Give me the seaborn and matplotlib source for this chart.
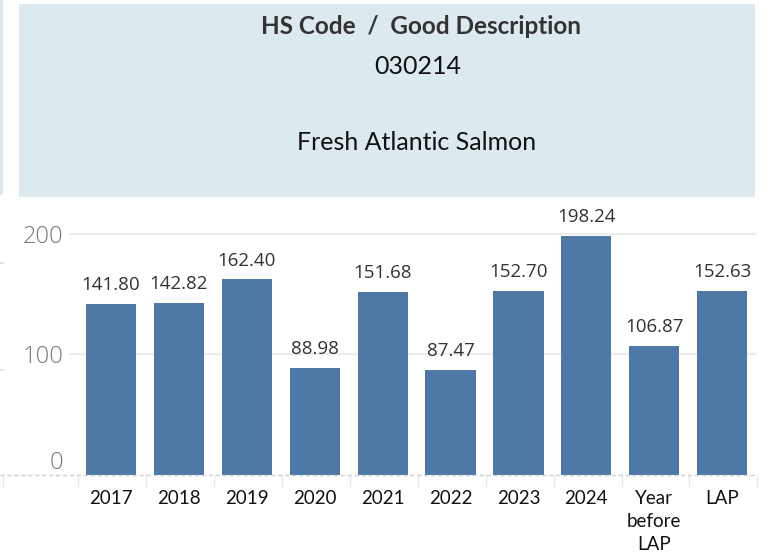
import matplotlib
matplotlib.use("Agg")
import matplotlib.pyplot as plt
from matplotlib.lines import Line2D
from matplotlib.patches import Rectangle
from matplotlib.transforms import ScaledTranslation
import seaborn as sns
import pandas as pd

# Data
categories = ["2017", "2018", "2019", "2020", "2021", "2022", "2023", "2024",
              "Year\nbefore\nLAP", "LAP"]
values = [141.80, 142.82, 162.40, 88.98, 151.68, 87.47, 152.70, 198.24, 106.87, 152.63]
y_ticks = [0, 100, 200]

hs_code = "030214"
description = "Fresh Atlantic Salmon"
header_title = "HS Code  /  Good Description"

BAR = "#4e79a7"
HEADER_BG = "#dce9ef"
GRID = "#ececec"

sns.set_theme(style="white")
plt.rcParams["font.family"] = ["Open Sans", "DejaVu Sans"]

W, H = 776, 555
fig = plt.figure(figsize=(W / 100, H / 100), dpi=100)
fig.patch.set_facecolor("white")

def fx(px):
    return px / W

def fy(py):
    return 1 - py / H

# Header panel
fig.patches.append(Rectangle((fx(19), fy(197)), fx(755) - fx(19), fy(4) - fy(197),
                             transform=fig.transFigure, facecolor=HEADER_BG,
                             edgecolor="none", zorder=0))
fig.patches.append(Rectangle((0, fy(195)), fx(3), fy(0) - fy(195),
                             transform=fig.transFigure, facecolor=HEADER_BG,
                             edgecolor="none", zorder=0))

narrow = ["Lato", "DejaVu Sans"]
fig.text(fx(421), fy(26), header_title, ha="center", va="center",
         fontsize=17.5, fontweight="bold", color="#333333", family=narrow)
fig.text(fx(418), fy(67), hs_code, ha="center", va="center",
         fontsize=18, color="#111111", family=narrow)
fig.text(fx(417), fy(142), description, ha="center", va="center",
         fontsize=18, color="#111111", family=narrow)

# Chart area
left, right, top, bottom = 69, 756, 203, 475
ax = fig.add_axes([fx(left), fy(bottom), fx(right) - fx(left), fy(top) - fy(bottom)])
df = pd.DataFrame({"period": categories, "value": values})
sns.barplot(data=df, x="period", y="value", color=BAR, saturation=1,
            width=0.74, linewidth=0, ax=ax, zorder=3)

ax.set_xlim(-0.62, 9.5)
ax.set_ylim(0, 225.7)
ax.set_yticks(y_ticks)
ax.set_yticklabels([str(t) for t in y_ticks], fontsize=17, color="#7a7a7a",
                   fontweight="light")
ax.tick_params(axis="y", length=0, pad=4)
ax.tick_params(axis="x", length=0, pad=10.5)
# keep the zero label inside the plot band
zero_lbl = ax.get_yticklabels()[0]
zero_lbl.set_transform(zero_lbl.get_transform() +
                       ScaledTranslation(0, 15 / 100, fig.dpi_scale_trans))
for lbl in ax.get_xticklabels():
    lbl.set_fontsize(13.5)
    lbl.set_color("#111111")
    lbl.set_family(narrow)
    lbl.set_linespacing(1.45)
    lbl.set_verticalalignment("top")
ax.set_xlabel("")
ax.set_ylabel("")
for s in ax.spines.values():
    s.set_visible(False)

for t in y_ticks[1:]:
    ax.axhline(t, color=GRID, lw=1.6, zorder=1)

for c in ax.containers:
    ax.bar_label(c, labels=[f"{v:.2f}" for v in values], padding=7,
                 fontsize=13.5, color="#333333")

# Dashed baseline and category dividers
fig.add_artist(Line2D([0, fx(756)], [fy(475), fy(475)], transform=fig.transFigure,
                      color="#cfcfcf", lw=1, ls=(0, (3, 2)), zorder=5))
for px in [3, 78, 146, 214, 282, 350, 418, 486, 554, 622, 689, 757]:
    fig.add_artist(Line2D([fx(px), fx(px)], [fy(476), fy(486)],
                          transform=fig.transFigure, color="#e6e6e6", lw=1))
for py in [263, 370]:
    fig.add_artist(Line2D([0, fx(3)], [fy(py), fy(py)],
                          transform=fig.transFigure, color="#dddddd", lw=1.2))

fig.savefig("out.png", dpi=100, facecolor="white")
